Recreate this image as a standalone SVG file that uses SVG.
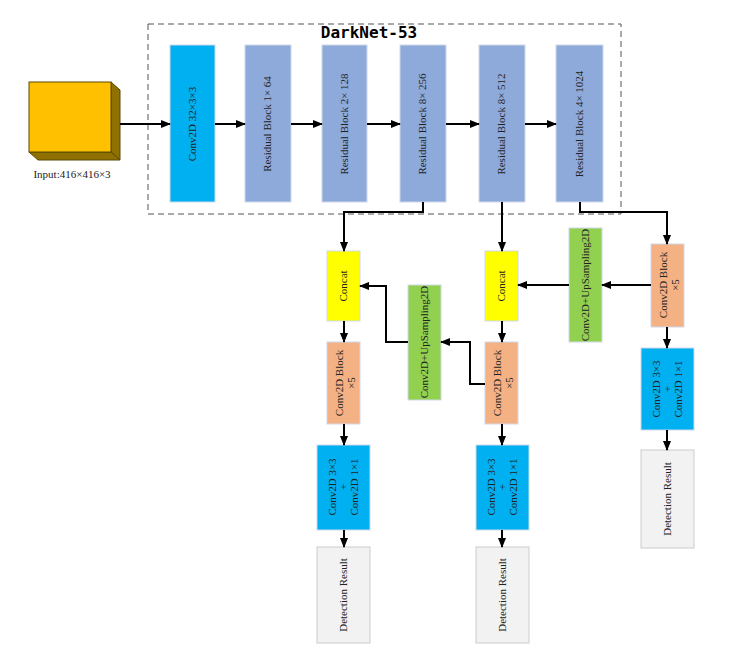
<svg xmlns="http://www.w3.org/2000/svg" width="732" height="666" viewBox="0 0 732 666">
<defs>
<marker id="ah" markerWidth="10" markerHeight="8" refX="9" refY="4" orient="auto" markerUnits="userSpaceOnUse"><path d="M0,0 L10,4 L0,8 Z" fill="#000"/></marker>
<style>
.t{font-family:"Liberation Serif",serif;font-size:11px;fill:#222;text-anchor:middle;dominant-baseline:middle}
.c{fill:none;stroke:#000;stroke-width:2;marker-end:url(#ah)}
.l{fill:none;stroke:#000;stroke-width:2}
.b{stroke:#d0d8e8;stroke-width:1}
.blue{fill:#00b0f0}.res{fill:#8eaadb}.yel{fill:#ffff00}.sal{fill:#f4b183}.grn{fill:#92d050}.gry{fill:#f2f2f2;stroke:#ccc}
</style>
</defs>
<rect width="732" height="666" fill="#fff"/>
<g id="darknet">
<rect x="148" y="24" width="473" height="190" fill="none" stroke="#555" stroke-dasharray="6,4"/>
<text x="369" y="33" font-family="DejaVu Sans Mono,monospace" font-weight="bold" font-size="16" text-anchor="middle" dominant-baseline="middle">DarkNet-53</text>
</g>
<g id="input">
<polygon points="111,82 120,90 120,160 111,152" fill="#8f7000" stroke="#5a4a00"/>
<polygon points="29,152 111,152 120,160 38,160" fill="#8f7000" stroke="#5a4a00"/>
<rect x="29" y="82" width="82" height="70" fill="#ffc000" stroke="#5a4a00"/>
<text x="72" y="175" class="t" font-size="10">Input:416×416×3</text>
</g>
<g id="conv0"><rect x="170" y="45" width="45" height="157" class="blue b"/><text class="t" transform="translate(193,124) rotate(-90)">Conv2D  32×3×3</text></g>
<g id="res1"><rect x="245" y="45" width="46" height="157" class="res b"/><text class="t" transform="translate(268,124) rotate(-90)">Residual Block 1× 64</text></g>
<g id="res2"><rect x="322" y="45" width="45" height="157" class="res b"/><text class="t" transform="translate(345,124) rotate(-90)">Residual Block 2× 128</text></g>
<g id="res3"><rect x="400" y="45" width="46" height="157" class="res b"/><text class="t" transform="translate(423,124) rotate(-90)">Residual Block 8× 256</text></g>
<g id="res4"><rect x="479" y="45" width="46" height="157" class="res b"/><text class="t" transform="translate(502,124) rotate(-90)">Residual Block 8× 512</text></g>
<g id="res5"><rect x="556" y="45" width="47" height="157" class="res b"/><text class="t" transform="translate(580,124) rotate(-90)">Residual Block 4× 1024</text></g>

<g id="concat1"><rect x="327" y="251" width="33" height="70" class="yel b"/><text class="t" font-size="10" transform="translate(344,286) rotate(-90)">Concat</text></g>
<g id="cb1"><rect x="327" y="342" width="33" height="82" class="sal b"/><text class="t" font-size="10" transform="translate(340,383) rotate(-90)">Conv2D Block</text><text class="t" font-size="10" transform="translate(352,383) rotate(-90)">×5</text></g>
<g id="cc1"><rect x="317" y="445" width="53" height="85" class="blue b"/><text class="t" font-size="10" transform="translate(333,487) rotate(-90)">Conv2D 3×3</text><text class="t" font-size="10" transform="translate(344,487) rotate(-90)">+</text><text class="t" font-size="10" transform="translate(355,487) rotate(-90)">Conv2D 1×1</text></g>
<g id="det1"><rect x="317" y="547" width="53" height="96" class="gry"/><text class="t" font-size="10" transform="translate(344,595) rotate(-90)">Detection Result</text></g>

<g id="concat2"><rect x="485" y="251" width="33" height="70" class="yel b"/><text class="t" font-size="10" transform="translate(502,286) rotate(-90)">Concat</text></g>
<g id="cb2"><rect x="485" y="342" width="33" height="82" class="sal b"/><text class="t" font-size="10" transform="translate(498,383) rotate(-90)">Conv2D Block</text><text class="t" font-size="10" transform="translate(510,383) rotate(-90)">×5</text></g>
<g id="cc2"><rect x="476" y="445" width="53" height="85" class="blue b"/><text class="t" font-size="10" transform="translate(492,487) rotate(-90)">Conv2D 3×3</text><text class="t" font-size="10" transform="translate(503,487) rotate(-90)">+</text><text class="t" font-size="10" transform="translate(514,487) rotate(-90)">Conv2D 1×1</text></g>
<g id="det2"><rect x="476" y="547" width="53" height="96" class="gry"/><text class="t" font-size="10" transform="translate(503,595) rotate(-90)">Detection Result</text></g>

<g id="cb3"><rect x="651" y="244" width="33" height="83" class="sal b"/><text class="t" font-size="10" transform="translate(664,285) rotate(-90)">Conv2D Block</text><text class="t" font-size="10" transform="translate(676,285) rotate(-90)">×5</text></g>
<g id="cc3"><rect x="641" y="348" width="53" height="82" class="blue b"/><text class="t" font-size="10" transform="translate(657,389) rotate(-90)">Conv2D 3×3</text><text class="t" font-size="10" transform="translate(668,389) rotate(-90)">+</text><text class="t" font-size="10" transform="translate(679,389) rotate(-90)">Conv2D 1×1</text></g>
<g id="det3"><rect x="641" y="450" width="53" height="98" class="gry"/><text class="t" font-size="10" transform="translate(668,499) rotate(-90)">Detection Result</text></g>

<g id="up1"><rect x="408" y="285" width="33" height="115" class="grn b"/><text class="t" font-size="10" transform="translate(425,342) rotate(-90)">Conv2D+UpSampling2D</text></g>
<g id="up2"><rect x="569" y="228" width="33" height="114" class="grn b"/><text class="t" font-size="10" transform="translate(586,285) rotate(-90)">Conv2D+UpSampling2D</text></g>

<g id="connectors">
<path class="c" d="M120,124 H170"/>
<path class="c" d="M215,124 H245"/>
<path class="c" d="M291,124 H322"/>
<path class="c" d="M367,124 H400"/>
<path class="c" d="M446,124 H479"/>
<path class="c" d="M525,124 H556"/>
<path class="c" d="M423,202 V212 H344 V251"/>
<path class="c" d="M502,202 V251"/>
<path class="c" d="M580,202 V212 H667 V244"/>
<path class="c" d="M651,285 H602"/>
<path class="c" d="M569,285 H518"/>
<path class="c" d="M485,384 H470 V342 H441"/>
<path class="c" d="M408,342 H386 V286 H360"/>
<path class="c" d="M344,321 V342"/>
<path class="c" d="M344,424 V445"/>
<path class="c" d="M344,530 V547"/>
<path class="c" d="M502,321 V342"/>
<path class="c" d="M502,424 V445"/>
<path class="c" d="M502,530 V547"/>
<path class="c" d="M667,327 V348"/>
<path class="c" d="M667,430 V450"/>
</g>
</svg>
